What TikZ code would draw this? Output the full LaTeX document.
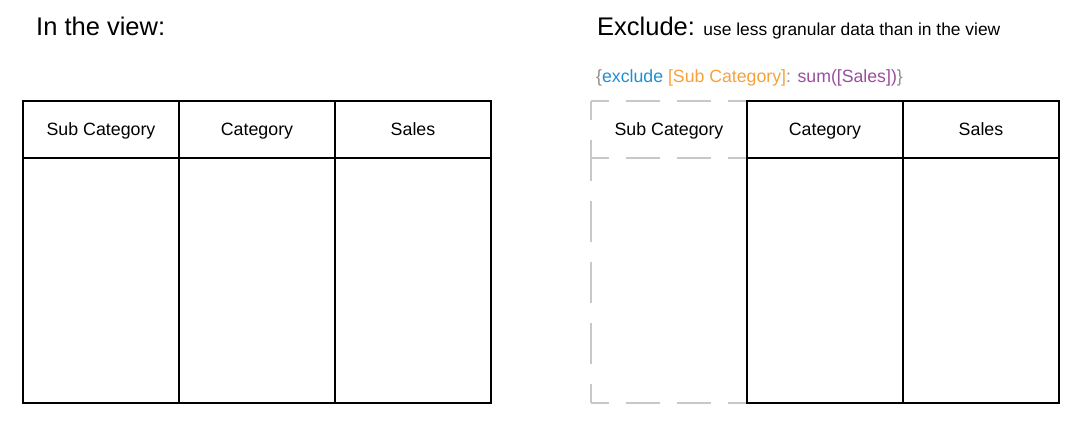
\documentclass[tikz,border=0pt]{standalone}
\usepackage{fontspec}
\setmainfont{Liberation Sans}
\usetikzlibrary{
  positioning
}
\definecolor{codeGray}{HTML}{8C8C8C}
\definecolor{codeBlue}{HTML}{1E8FD5}
\definecolor{codeOrange}{HTML}{F7A03C}
\definecolor{codePurple}{HTML}{9A4E9E}
\definecolor{dashGray}{HTML}{C8C8C8}
\tikzset{
  % Shared values that are assigned to different keys in the styles below.
  globals/cell width/.initial=156pt,
  globals/head height/.initial=57pt,
  globals/body height/.initial=245pt,
%
  % For the big titles.
  title/.style={
    font={\fontsize{25.5pt}{30pt}\selectfont},
    anchor=base west,
    inner sep=0pt},
%
  % For the small explanation and the formula.
  subtitle/.style={
    font={\fontsize{17.4pt}{20pt}\selectfont},
    anchor=base west,
    inner sep=0pt},
%
  % For the column headers.
  head cell/.style={
    draw,
    line width=2pt,
    minimum width=\pgfkeysvalueof{/tikz/globals/cell width},
    minimum height=\pgfkeysvalueof{/tikz/globals/head height},
    inner sep=0pt,
    outer sep=0pt,
    anchor=north west,
    text height=13pt,
    text depth=2pt,
    font={\fontsize{17.8pt}{20pt}\selectfont}},
%
  % For the empty body under a header.
  body cell/.style={
    head cell,
    minimum height=\pgfkeysvalueof{/tikz/globals/body height}},
%
  % For the column that is left out.
  ghost cell/.style={
    draw=none},
%
  % For the grey dashed edges.
  ghost edge/.style={
    draw=dashGray,
    line width=1.5pt,
    dash pattern=on 34pt off 17pt,
    dash phase=16pt},
  ghost side/.style={
    ghost edge,
    dash pattern=on 41pt off 20pt,
    dash phase=22pt}
}
\begin{document}
\begin{tikzpicture}[x=1pt,y=-1pt]
  \useasboundingbox (0,0) rectangle (1080,421);

  % Titles.
  \node[title] (viewTitle) at (36,35) {In the view:};
  \node[title] (excludeTitle) at (597,35) {Exclude:};
  \node[subtitle, right=8pt of excludeTitle.base east, anchor=base west] (excludeNote)
    {use less granular data than in the view};
  \node[subtitle, font={\fontsize{17.7pt}{20pt}\selectfont}] (formula) at (596,82)
    {\textcolor{codeGray}{\{}\textcolor{codeBlue}{exclude}
     \textcolor{codeOrange}{[Sub Category]}\textcolor{codeGray}{:}
     \textcolor{codePurple}{sum([Sales])}\textcolor{codeGray}{\}}};

  % The table in the view.
  \foreach \name/\text [count=\i from 0] in {sub/Sub Category,cat/Category,sales/Sales} {
    \node[head cell] (view-\name-head) at ({23+156*\i},101) {\text};
    \node[body cell] (view-\name-body) at (view-\name-head.south west) {};
  }

  % The table with the excluded column.
  \node[head cell, ghost cell] (excl-sub-head) at (591,101) {Sub Category};
  \node[body cell, ghost cell] (excl-sub-body) at (excl-sub-head.south west) {};
  \draw[ghost edge] (excl-sub-head.north west) -- (excl-sub-head.north east);
  \draw[ghost edge] (excl-sub-head.south west) -- (excl-sub-head.south east);
  \draw[ghost edge] (excl-sub-body.south west) -- (excl-sub-body.south east);
  \draw[ghost side] (excl-sub-head.north west) -- (excl-sub-body.south west);

  \foreach \name/\text [count=\i from 1] in {cat/Category,sales/Sales} {
    \node[head cell] (excl-\name-head) at ({591+156*\i},101) {\text};
    \node[body cell] (excl-\name-body) at (excl-\name-head.south west) {};
  }
\end{tikzpicture}
\end{document}
